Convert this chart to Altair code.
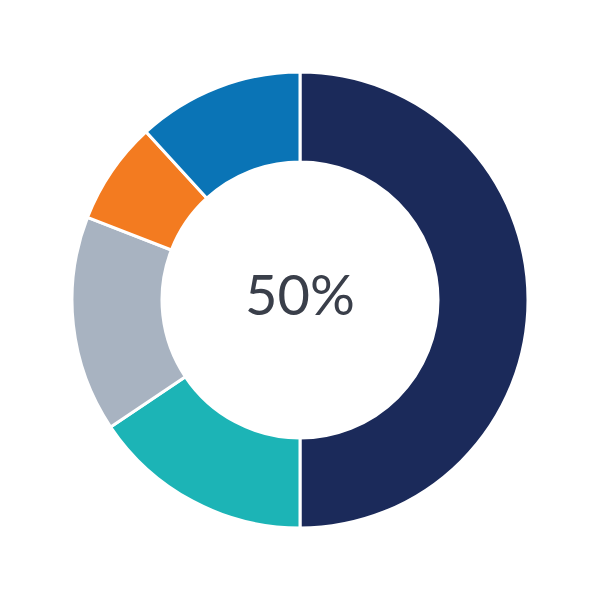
import altair as alt
import pandas as pd

categories = ["A", "B", "C", "D", "E"]
values = [50, 15.6, 15.3, 7.3, 11.8]
colors = ["#1b2a5a", "#1cb4b6", "#a8b3c1", "#f37b20", "#0a74b6"]
center_label = ["50%"]

df = pd.DataFrame({"cat": categories, "value": values, "order": list(range(len(categories)))})
lab = pd.DataFrame({"label": center_label})

arcs = alt.Chart(df).mark_arc(innerRadius=138, outerRadius=228, stroke="white", strokeWidth=3).encode(
    theta=alt.Theta("value:Q", stack=True),
    order=alt.Order("order:Q"),
    color=alt.Color("cat:N", scale=alt.Scale(domain=categories, range=colors), legend=None),
)

text = alt.Chart(lab).mark_text(font="Lato", fontSize=56, color="#3a3f4a", baseline="middle", align="center").encode(
    text="label:N",
    x=alt.value(292),
    y=alt.value(290),
)

chart = alt.layer(arcs, text).properties(
    width=584, height=584, autosize=alt.AutoSizeParams(type="none"), padding=0
).configure_view(stroke=None)

chart.save("out.html", embed_options={"renderer": "svg", "actions": False})
